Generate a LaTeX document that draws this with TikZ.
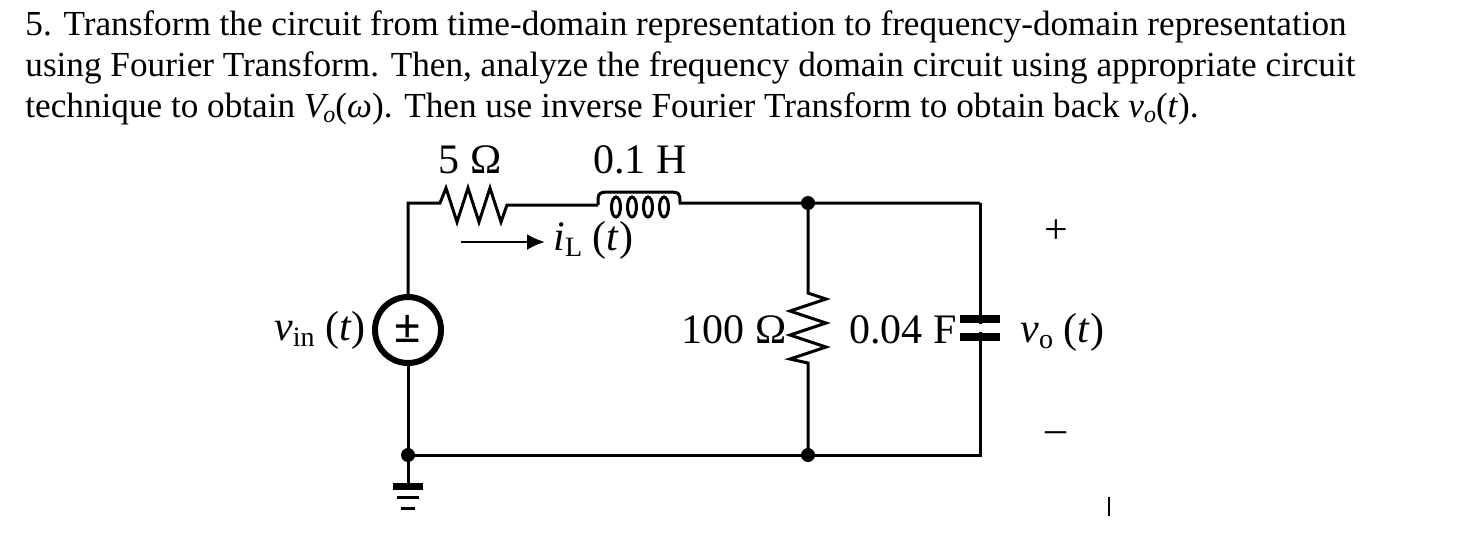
\documentclass[tikz,border=0pt]{standalone}
\usepackage{fontspec}
\setmainfont{Liberation Serif}
\usetikzlibrary{arrows.meta}
\begin{document}
\begin{tikzpicture}[x=0.5pt,y=-0.5pt,
  wire/.style={line width=1.5pt,line join=miter},
  lbl/.style={font=\fontsize{21}{24}\selectfont,inner sep=0pt},
  ttl/.style={font=\fontsize{17.6}{20.5}\selectfont,inner sep=0pt,anchor=base west},
  dot/.style={circle,fill=black,inner sep=0pt,minimum size=7pt}]
\useasboundingbox (0,0) rectangle (1479,548);
\node[ttl] (t1) at (25,35) {5. Transform the circuit from time-domain representation to frequency-domain representation};
\node[ttl] (t2) at (25,76) {using Fourier Transform. Then, analyze the frequency domain circuit using appropriate circuit};
\node[ttl] (t3) at (25,117) {technique to obtain \textit{V\kern-1pt\raisebox{-2.5pt}{\fontsize{12}{12}\selectfont o}}(\textit{ω}). Then use inverse Fourier Transform to obtain back \textit{v\raisebox{-2.5pt}{\fontsize{12}{12}\selectfont o}}(\textit{t}).};
% coordinates
\coordinate (tl) at (408,203);
\coordinate (bl) at (408,455);
\coordinate (tm) at (808,203);
\coordinate (bm) at (808,455);
\coordinate (tr) at (980,203);
\coordinate (br) at (980,455);
\node[circle,draw,line width=3pt,minimum size=33pt,inner sep=0pt] (src) at (408,330) {};
\node[font=\fontsize{24}{24}\selectfont\bfseries,inner sep=0pt] at (408,329) {±};
% top wire with resistor
\draw[wire] (src.north) -- (tl) -- (440,203) -- (446,188) -- (457,222) -- (468,188) -- (479,222) -- (490,188) -- (501,222) -- (507,205) -- (598,205);
% inductor
\draw[wire] (598,205) .. controls (598,192) .. (614,192) -- (664,192) .. controls (680,192) .. (680,203) -- (tm) -- (tr);
\foreach \cx in {616,632,648,664}{\draw[wire] (\cx,207) ellipse[x radius=4.5,y radius=10];}
\draw[wire] (src.south) -- (bl) -- (bm) -- (br) -- (tr);
% 100 ohm
\draw[wire] (tm) -- (808,293) -- (826,299) -- (790,311) -- (826,323) -- (790,335) -- (826,347) -- (790,359) -- (808,363) -- (bm);
% capacitor
\fill[white] (970,324) rectangle (990,332);
\fill (960,315) rectangle (1000,323);
\fill (960,333) rectangle (1000,341);
\node[dot] at (bl) {};
\node[dot] at (tm) {};
\node[dot] at (bm) {};
% ground
\draw[wire] (bl) -- (408,483);
\fill (393,483) rectangle (423,490);
\draw[wire] (397,497) -- (419,497);
\draw[wire] (401,508) -- (415,508);
% arrow
\coordinate (a1) at (461,242);
\coordinate (a2) at (545,242);
\draw[line width=1.3pt,-{Latex[length=9pt,width=8pt]}] (a1) -- (a2);
% labels
\node[lbl] (r1) at (470,160) {5 Ω};
\node[lbl] (l1) at (640,160) {0.1 H};
\node[lbl,anchor=west] (il) at (553,240) {\textit{i}\raisebox{-3pt}{\fontsize{14}{14}\selectfont L} (\textit{t})};
\node[lbl,anchor=east] (vin) at (366,330) {\textit{v}\raisebox{-3pt}{\fontsize{14}{14}\selectfont in} (\textit{t})};
\node[lbl,anchor=east] (r2) at (787,330) {100 Ω};
\node[lbl,anchor=east] (c1) at (957,330) {0.04 F};
\node[lbl,anchor=west] (vo) at (1020,332) {\textit{v}\raisebox{-3pt}{\fontsize{14}{14}\selectfont o} (\textit{t})};
\node[lbl] (pl) at (1056,232) {+};
\node[lbl] (mi) at (1056,437) {–};
\draw[line width=1pt] (1109,497) -- (1109,516);
\end{tikzpicture}
\end{document}
